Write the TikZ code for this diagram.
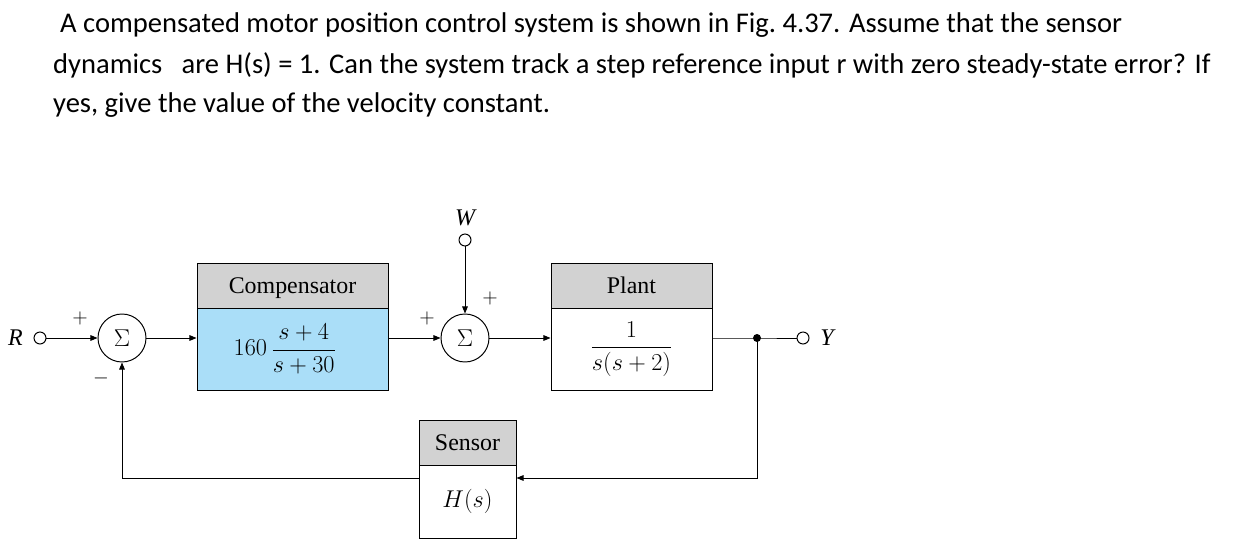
\documentclass[tikz,border=0pt]{standalone}
\usepackage{fontspec}
\setmainfont{Liberation Serif}
\newfontfamily\qfont{Carlito}
\usetikzlibrary{arrows.meta,positioning,calc}
\definecolor{hdrgray}{RGB}{210,210,210}
\definecolor{bodyblue}{RGB}{170,222,248}
\tikzset{
  sumnode/.style={draw,circle,minimum size=48*0.025cm,inner sep=0pt,font=\fontsize{16}{18}\selectfont},
  hdr/.style={draw,fill=hdrgray,minimum height=45*0.025cm,inner sep=0pt,text depth=0pt,font=\fontsize{17}{19}\selectfont},
  body/.style={draw,minimum height=82*0.025cm,inner sep=0pt,font=\fontsize{17}{19}\selectfont},
  port/.style={draw,circle,minimum size=12*0.025cm,inner sep=0pt},
  sig/.style={-{Triangle[length=5pt,width=4pt]}},
  lbl/.style={font=\fontsize{17}{19}\selectfont\itshape},
  qtext/.style={anchor=west,font=\qfont\fontsize{20.3}{24}\selectfont},
}
\begin{document}
\begin{tikzpicture}[x=0.025cm,y=-0.025cm,every path/.style={line width=0.7pt}]
\useasboundingbox (0,0) rectangle (1245,558);

% question text
\node[qtext] (q1) at (55,25) {A compensated motor position control system is shown in Fig.\ 4.37. Assume that the sensor};
\node[qtext] (q2) at (48,65) {dynamics\ \ \ are H(s) = 1. Can the system track a step reference input r with zero steady-state error? If};
\node[qtext] (q3) at (48,105) {yes, give the value of the velocity constant.};

% ports and summers
\node[port] (rin) at (40,338) {};
\node[lbl,left=4pt of rin] {R};
\node[sumnode] (sumA) at (122,338) {$\Sigma$};
\node[sumnode] (sumB) at (465,338) {$\Sigma$};
\node[port] (win) at (465,240) {};
\node[lbl,above=2pt of win] {W};
\node[port] (yout) at (803,338) {};
\node[lbl,right=4pt of yout] {Y};
\coordinate (tap) at (757,338);
\fill (tap) circle (4);

% blocks
\node[hdr,minimum width=191*0.025cm] (comphdr) at (292.5,285.5) {Compensator};
\node[body,fill=bodyblue,minimum width=191*0.025cm] (comp) at (292.5,349) {};
\node[font=\fontsize{17}{19}\selectfont] (compnum) at (285,349) {$\displaystyle 160\,\frac{s+4}{s+30}$};
\node[hdr,minimum width=161*0.025cm] (planthdr) at (631.5,285.5) {Plant};
\node[body,minimum width=161*0.025cm] (plant) at (631.5,349) {$\displaystyle\frac{1}{s(s+2)}$};
\node[hdr,minimum width=97*0.025cm] (senshdr) at (467.5,442.5) {Sensor};
\node[body,minimum width=97*0.025cm,minimum height=73*0.025cm] (sens) at (467.5,501.5) {$H(s)$};

% signs
\node[font=\fontsize{15}{17}\selectfont] at (80,318) {$+$};
\node[font=\fontsize{15}{17}\selectfont] at (101,378) {$-$};
\node[font=\fontsize{15}{17}\selectfont] at (427,318) {$+$};
\node[font=\fontsize{15}{17}\selectfont] at (490,298) {$+$};

% forward path
\draw[sig] (rin) -- (sumA);
\draw[sig] (sumA) -- (comp.west |- sumA);
\draw[sig] (comp.east |- sumB) -- (sumB);
\draw[sig] (win) -- (sumB);
\draw[sig] (sumB) -- (plant.west |- sumB);
\draw (plant.east |- tap) -- (tap) -- (yout);

% feedback path
\draw[sig] (tap) |- (sens.east |- 0,478);
\draw[sig] (sens.west |- 0,478) -| (sumA);
\end{tikzpicture}
\end{document}
